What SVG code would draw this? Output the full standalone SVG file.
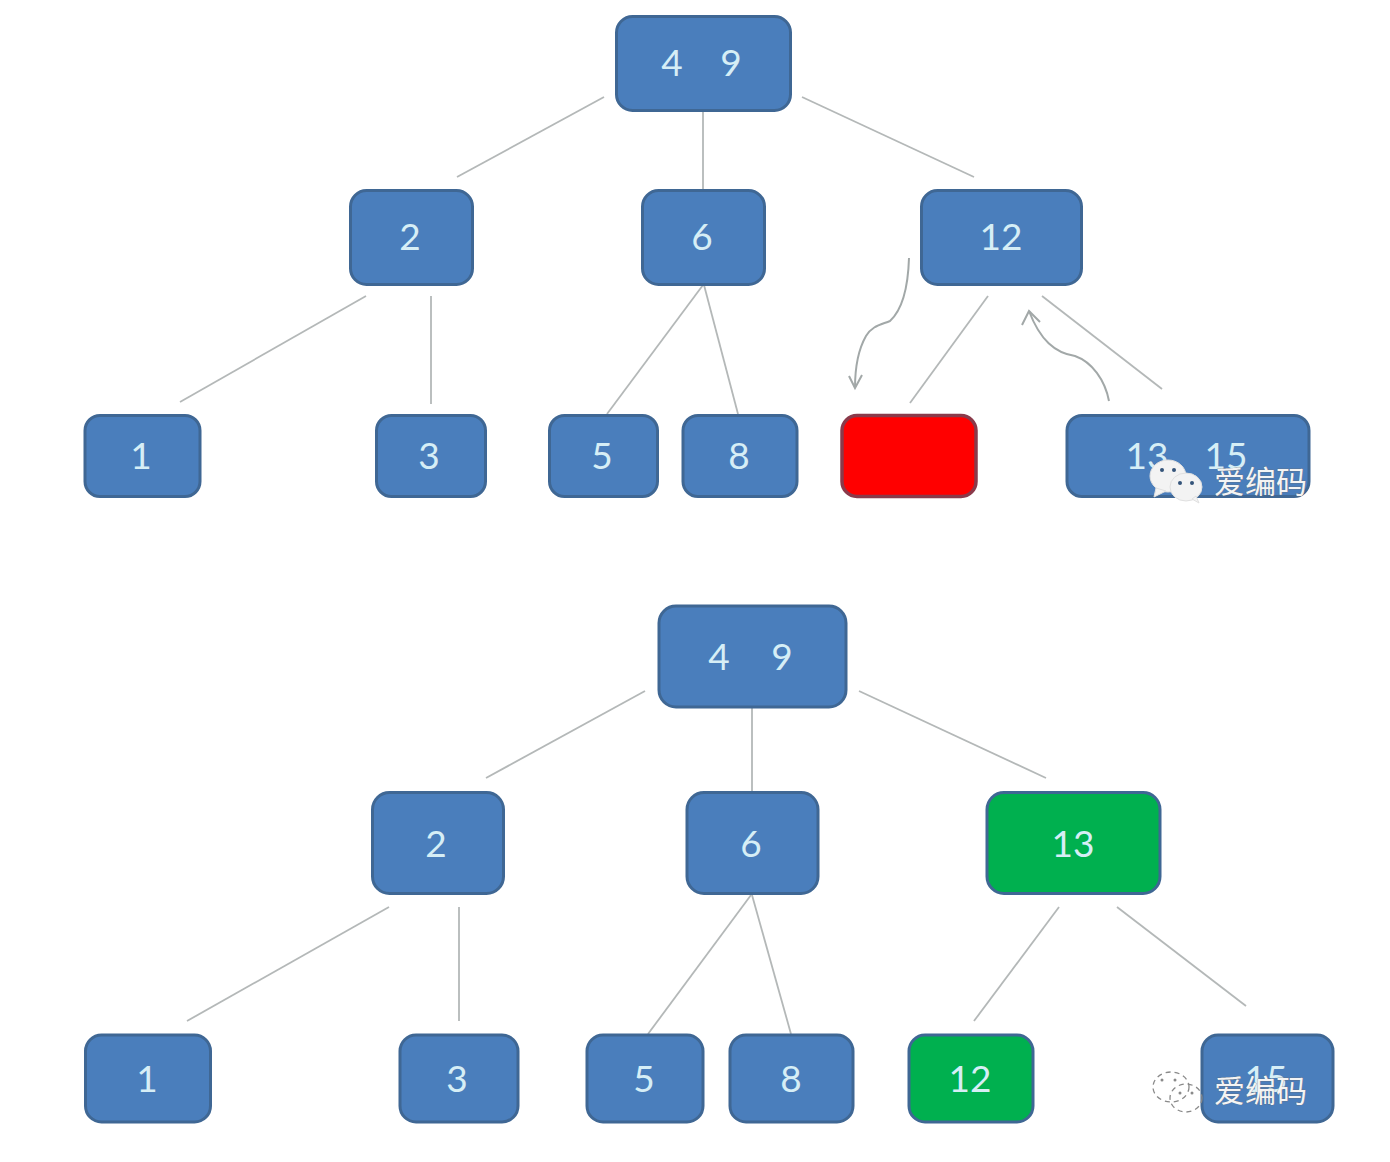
<svg xmlns="http://www.w3.org/2000/svg" width="1390" height="1162" viewBox="0 0 1390 1162">
<defs>
<style>
.n{fill:#4a7ebc;stroke:#3f6794;stroke-width:3}
.g{fill:#00b04f;stroke:#3f6794;stroke-width:3}
.r{fill:#ff0000;stroke:#8a3a4a;stroke-width:3.5}
.t{font-family:Lato,"Noto Sans",sans-serif;font-size:37px;fill:#d6eef6;text-anchor:middle}
.l{stroke:#b4b8b8;stroke-width:1.8;fill:none}
.a{stroke:#a2a8a8;stroke-width:2;fill:none}
.w{font-family:"Noto Sans CJK SC",sans-serif;font-size:31px;fill:#f4f4f4;stroke:#6b6b6b;stroke-width:.5;paint-order:stroke;text-anchor:start}
.b{fill:#f3f3f3;stroke:#e0e0e0;stroke-width:1}
.d{fill:none;stroke:#8a8a8a;stroke-width:1.3;stroke-dasharray:5 4}
.e{fill:#35547a}
</style>
</defs>
<rect width="1390" height="1162" fill="#ffffff"/>
<g id="connectors">
<line class="l" x1="604" y1="97" x2="457" y2="177"/>
<line class="l" x1="703" y1="110" x2="703" y2="190"/>
<line class="l" x1="802" y1="97" x2="974" y2="177"/>
<line class="l" x1="366" y1="296" x2="180" y2="402"/>
<line class="l" x1="431" y1="296" x2="431" y2="404"/>
<line class="l" x1="703" y1="285" x2="607" y2="414"/>
<line class="l" x1="704" y1="285" x2="738" y2="414"/>
<line class="l" x1="988" y1="296" x2="910" y2="403"/>
<line class="l" x1="1042" y1="296" x2="1162" y2="389"/>
<path class="a" d="M909 258C908 290 902 310 890 321C880 325 872 326 866 336C858 350 855 368 855 388"/>
<path class="a" d="M849 376L855 388L862 375"/>
<path class="a" d="M1109 401C1105 380 1092 362 1075 356C1055 353 1040 340 1029 311"/>
<path class="a" d="M1022 325L1029 311L1040 322"/>
<line class="l" x1="645" y1="691" x2="486" y2="778"/>
<line class="l" x1="752" y1="707" x2="752" y2="792"/>
<line class="l" x1="859" y1="691" x2="1046" y2="778"/>
<line class="l" x1="389" y1="907" x2="187" y2="1021"/>
<line class="l" x1="459" y1="907" x2="459" y2="1021"/>
<line class="l" x1="751" y1="895" x2="648" y2="1034"/>
<line class="l" x1="752" y1="895" x2="791" y2="1034"/>
<line class="l" x1="1059" y1="907" x2="974" y2="1021"/>
<line class="l" x1="1117" y1="907" x2="1246" y2="1006"/>
</g>
<g id="t1-root"><rect class="n" x="616.500" y="16.500" width="174" height="94" rx="16"/><text class="t" x="672" y="76">4</text><text class="t" x="731" y="76">9</text></g>
<g id="t1-n2"><rect class="n" x="350.500" y="190.500" width="122" height="94" rx="16"/><text class="t" x="410" y="250">2</text></g>
<g id="t1-n6"><rect class="n" x="642.500" y="190.500" width="122" height="94" rx="16"/><text class="t" x="702" y="250">6</text></g>
<g id="t1-n12"><rect class="n" x="921.500" y="190.500" width="160" height="94" rx="16"/><text class="t" x="1001" y="250">12</text></g>
<g id="t1-n1"><rect class="n" x="85" y="415.500" width="115" height="81" rx="15"/><text class="t" x="141" y="469">1</text></g>
<g id="t1-n3"><rect class="n" x="376.500" y="415.500" width="109" height="81" rx="15"/><text class="t" x="429" y="469">3</text></g>
<g id="t1-n5"><rect class="n" x="549.500" y="415.500" width="108" height="81" rx="15"/><text class="t" x="602" y="469">5</text></g>
<g id="t1-n8"><rect class="n" x="683" y="415.500" width="114" height="81" rx="15"/><text class="t" x="739" y="469">8</text></g>
<g id="t1-red"><rect class="r" x="842" y="415.500" width="134" height="81" rx="15"/></g>
<g id="t1-n13-15"><rect class="n" x="1067" y="415.500" width="242" height="81" rx="15"/><text class="t" x="1147" y="469">13</text><text class="t" x="1226" y="469">15</text></g>
<g id="t2-root"><rect class="n" x="659" y="606" width="187" height="101" rx="17"/><text class="t" x="719" y="670">4</text><text class="t" x="782" y="670">9</text></g>
<g id="t2-n2"><rect class="n" x="372.500" y="792.500" width="131" height="101" rx="17"/><text class="t" x="436" y="857">2</text></g>
<g id="t2-n6"><rect class="n" x="687" y="792.500" width="131" height="101" rx="17"/><text class="t" x="751" y="857">6</text></g>
<g id="t2-n13"><rect class="g" x="987" y="792.500" width="173" height="101" rx="17"/><text class="t" x="1073" y="857">13</text></g>
<g id="t2-n1"><rect class="n" x="85.500" y="1035" width="125" height="87" rx="16"/><text class="t" x="147" y="1092">1</text></g>
<g id="t2-n3"><rect class="n" x="400" y="1035" width="118" height="87" rx="16"/><text class="t" x="457" y="1092">3</text></g>
<g id="t2-n5"><rect class="n" x="587" y="1035" width="116" height="87" rx="16"/><text class="t" x="644" y="1092">5</text></g>
<g id="t2-n8"><rect class="n" x="730" y="1035" width="123" height="87" rx="16"/><text class="t" x="791" y="1092">8</text></g>
<g id="t2-n12"><rect class="g" x="909" y="1035" width="124" height="87" rx="16"/><text class="t" x="970" y="1092">12</text></g>
<g id="t2-n15"><rect class="n" x="1202" y="1035" width="131" height="87" rx="16"/><text class="t" x="1266" y="1092">15</text></g>
<g id="watermark-1">
<ellipse class="b" cx="1168" cy="476" rx="18" ry="16"/>
<path class="b" d="M1156 488L1154 497L1166 491Z"/>
<ellipse class="b" cx="1186" cy="487" rx="16" ry="14"/>
<path class="b" d="M1192 499L1199 503L1196 496Z"/>
<circle class="e" cx="1162" cy="470" r="2"/><circle class="e" cx="1174" cy="470" r="2"/>
<circle class="e" cx="1180" cy="483" r="2"/><circle class="e" cx="1192" cy="483" r="2"/>
<text class="w" x="1214" y="493">爱编码</text>
</g>
<g id="watermark-2">
<ellipse class="d" cx="1171" cy="1087" rx="18" ry="15"/>
<ellipse class="d" cx="1186" cy="1098" rx="16" ry="14"/>
<circle fill="#8a8a8a" cx="1162" cy="1080" r="1.500"/><circle fill="#8a8a8a" cx="1175" cy="1080" r="1.500"/>
<circle fill="#8a8a8a" cx="1180" cy="1093" r="1.500"/><circle fill="#8a8a8a" cx="1192" cy="1093" r="1.500"/>
<text class="w" x="1214" y="1102">爱编码</text>
</g>
</svg>
